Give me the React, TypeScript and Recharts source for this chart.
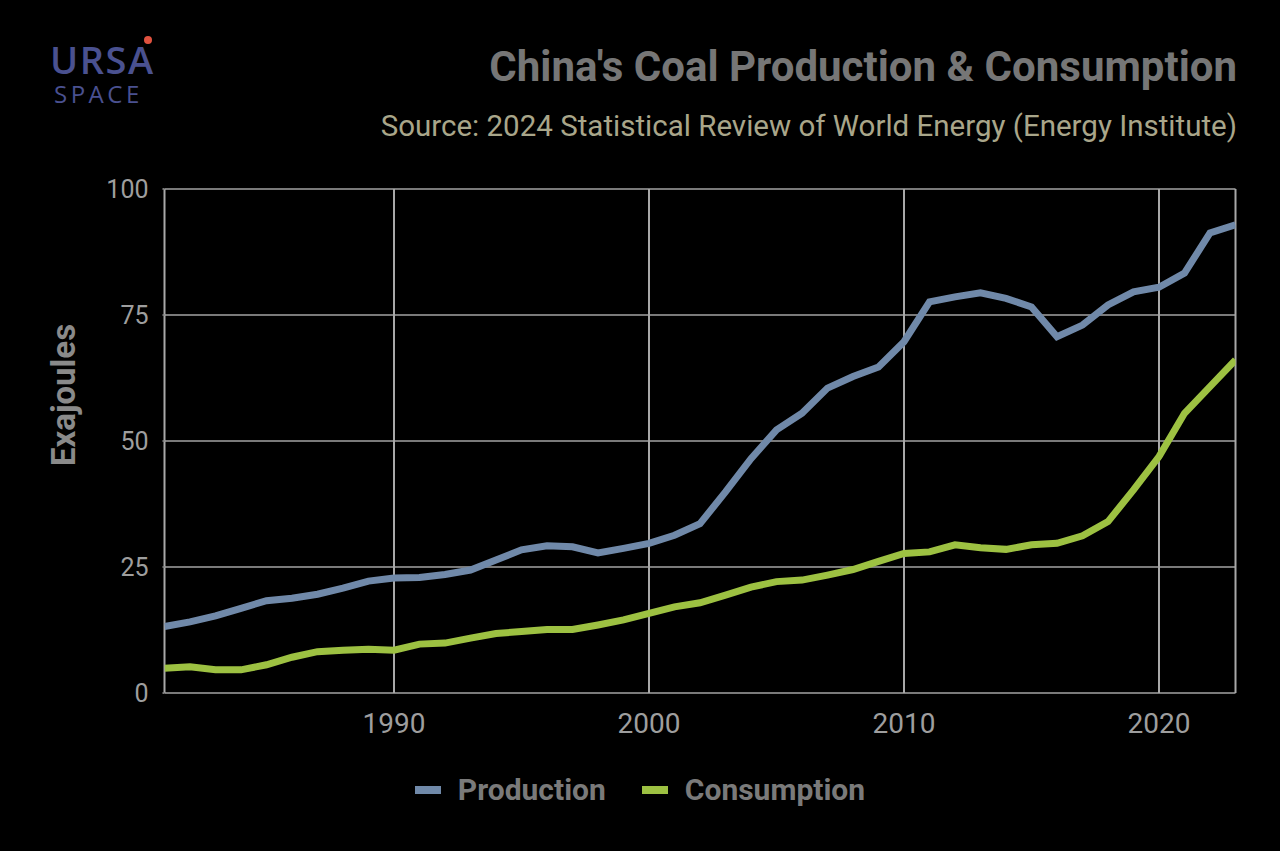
import React from 'react';
import { LineChart, Line, XAxis, YAxis, CartesianGrid, Legend } from 'recharts';

const years = [
  1981, 1982, 1983, 1984, 1985, 1986, 1987, 1988, 1989, 1990,
  1991, 1992, 1993, 1994, 1995, 1996, 1997, 1998, 1999, 2000,
  2001, 2002, 2003, 2004, 2005, 2006, 2007, 2008, 2009, 2010,
  2011, 2012, 2013, 2014, 2015, 2016, 2017, 2018, 2019, 2020,
  2021, 2022, 2023,
];

const production = [
  13.2, 14.1, 15.3, 16.8, 18.3, 18.8, 19.6, 20.8, 22.2, 22.8,
  22.9, 23.5, 24.4, 26.4, 28.4, 29.2, 29.0, 27.8, 28.7, 29.7,
  31.3, 33.6, 39.9, 46.5, 52.2, 55.5, 60.5, 62.8, 64.7, 69.7,
  77.6, 78.6, 79.4, 78.3, 76.6, 70.7, 73.0, 77.0, 79.6, 80.5,
  83.3, 91.3, 92.9,
];

const consumption = [
  4.9, 5.2, 4.6, 4.6, 5.6, 7.1, 8.2, 8.5, 8.7, 8.5,
  9.7, 9.9, 10.9, 11.8, 12.2, 12.6, 12.6, 13.5, 14.5, 15.8,
  17.1, 17.9, 19.4, 21.0, 22.1, 22.4, 23.4, 24.5, 26.1, 27.7,
  28.0, 29.4, 28.8, 28.5, 29.4, 29.7, 31.2, 34.0, 40.3, 46.9,
  55.5, 60.8, 66.1,
];

const seriesNames = ['Production', 'Consumption'];
const xTicks = [1990, 2000, 2010, 2020];
const yTicks = [0, 25, 50, 75, 100];

const data = years.map((year, i) => ({
  year,
  Production: production[i],
  Consumption: consumption[i],
}));

const FONT = 'Roboto, "Noto Sans", sans-serif';

const renderLegend = (props: any) => {
  const payload = [...(props.payload || [])].sort(
    (a: any, b: any) => seriesNames.indexOf(a.value) - seriesNames.indexOf(b.value)
  );
  return (
    <div
      style={{
        display: 'flex',
        justifyContent: 'center',
        alignItems: 'center',
        fontFamily: FONT,
        fontWeight: 700,
        fontSize: 30,
        lineHeight: 1,
        color: '#7a7a7a',
      }}
    >
      {payload.map((p: any) => (
        <div key={p.value} style={{ display: 'flex', alignItems: 'center', margin: '0 18px' }}>
          <span
            style={{
              display: 'inline-block',
              width: 26,
              height: 8,
              background: p.color,
              marginRight: 17,
            }}
          />
          <span>{p.value}</span>
        </div>
      ))}
    </div>
  );
};

export default function App() {
  return (
    <div
      style={{
        position: 'absolute',
        left: 0,
        top: 0,
        width: 1280,
        height: 851,
        background: '#000',
        overflow: 'hidden',
        fontFamily: FONT,
      }}
    >
      {/* Logo */}
      <div
        style={{
          position: 'absolute',
          left: 50,
          top: 40,
          fontFamily: '"Open Sans", sans-serif',
          color: '#4a5190',
          lineHeight: 1,
          fontSize: 38,
          fontWeight: 600,
          letterSpacing: 1.5,
        }}
      >
        URSA
      </div>
      <div
        style={{
          position: 'absolute',
          left: 54,
          top: 82,
          fontFamily: '"Open Sans", sans-serif',
          color: '#4a5190',
          lineHeight: 1,
          fontSize: 24,
          fontWeight: 400,
          letterSpacing: 3.5,
        }}
      >
        SPACE
      </div>
      <div
        style={{
          position: 'absolute',
          left: 144,
          top: 36,
          width: 8,
          height: 8,
          borderRadius: 4,
          background: '#e0523f',
        }}
      />

      {/* Title */}
      <div
        style={{
          position: 'absolute',
          right: 43,
          top: 46,
          fontSize: 42,
          fontWeight: 700,
          color: '#767676',
          lineHeight: 1,
          whiteSpace: 'nowrap',
        }}
      >
        China's Coal Production &amp; Consumption
      </div>
      <div
        style={{
          position: 'absolute',
          right: 43,
          top: 112,
          fontSize: 29.5,
          fontWeight: 400,
          color: '#a9a68a',
          lineHeight: 1,
          whiteSpace: 'nowrap',
        }}
      >
        Source: 2024 Statistical Review of World Energy (Energy Institute)
      </div>

      {/* Y axis title */}
      <div
        style={{
          position: 'absolute',
          left: 63,
          top: 394.5,
          transform: 'translate(-50%, -50%) rotate(-90deg)',
          fontSize: 33,
          fontWeight: 700,
          color: '#8a8a8a',
          lineHeight: 1,
          whiteSpace: 'nowrap',
        }}
      >
        Exajoules
      </div>

      <div style={{ position: 'absolute', left: 0, top: 0 }}>
        <LineChart
          width={1280}
          height={851}
          data={data}
          margin={{ top: 189, right: 44.5, bottom: 98, left: 0 }}
        >
          <CartesianGrid horizontal={true} vertical={false} stroke="#7a7a7a" strokeWidth={2} />
          <CartesianGrid horizontal={false} vertical={true} stroke="#a8a8a8" strokeWidth={2} />
          <XAxis
            dataKey="year"
            type="number"
            domain={[1981, 2023]}
            ticks={xTicks}
            axisLine={false}
            tickLine={false}
            tickSize={0}
            tickMargin={20}
            height={60}
            tick={{ fill: '#9e9e9e', fontSize: 28, fontFamily: FONT }}
            allowDataOverflow
          />
          <YAxis
            type="number"
            domain={[0, 100]}
            ticks={yTicks}
            width={164.5}
            axisLine={false}
            tickLine={{ stroke: '#7a7a7a', strokeWidth: 2 }}
            tickSize={2}
            tickMargin={14}
            tick={{ fill: '#9e9e9e', fontSize: 25, fontFamily: FONT }}
          />
          <Legend
            layout="horizontal"
            verticalAlign="middle"
            align="center"
            content={renderLegend}
            wrapperStyle={{ top: 775, left: 0, width: 1280 }}
          />
          <Line
            type="linear"
            dataKey="Production"
            stroke="#7089a9"
            strokeWidth={7}
            dot={false}
            activeDot={false}
            isAnimationActive={false}
          />
          <Line
            type="linear"
            dataKey="Consumption"
            stroke="#9dc142"
            strokeWidth={7}
            dot={false}
            activeDot={false}
            isAnimationActive={false}
          />
        </LineChart>
      </div>
    </div>
  );
}
